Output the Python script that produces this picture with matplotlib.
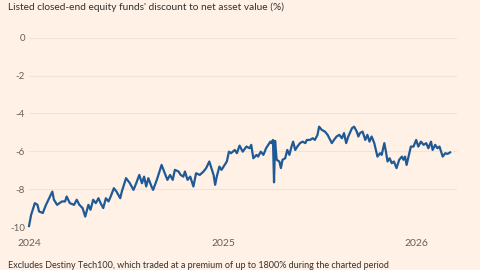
import matplotlib
matplotlib.use("Agg")
import matplotlib.pyplot as plt
import pandas as pd

title = "Listed closed-end equity funds' discount to net asset value (%)"
footnote = "Excludes Destiny Tech100, which traded at a premium of up to 1800% during the charted period"

dates = [
    "2024-01-01", "2024-01-05", "2024-01-12", "2024-01-17", "2024-01-20", "2024-01-27",
    "2024-02-02", "2024-02-08", "2024-02-14", "2024-02-17", "2024-02-23", "2024-03-03",
    "2024-03-09", "2024-03-12", "2024-03-18", "2024-03-26", "2024-03-31", "2024-04-05",
    "2024-04-11", "2024-04-16", "2024-04-22", "2024-04-26", "2024-05-01", "2024-05-06",
    "2024-05-11", "2024-05-15", "2024-05-20", "2024-05-25", "2024-05-30", "2024-06-03",
    "2024-06-09", "2024-06-14", "2024-06-21", "2024-06-24", "2024-07-02", "2024-07-09",
    "2024-07-16", "2024-07-21", "2024-07-27", "2024-08-01", "2024-08-05", "2024-08-09",
    "2024-08-13", "2024-08-19", "2024-08-22", "2024-08-29", "2024-09-07", "2024-09-13",
    "2024-09-18", "2024-09-23", "2024-09-28", "2024-10-02", "2024-10-09", "2024-10-13",
    "2024-10-18", "2024-10-21", "2024-10-26", "2024-10-31", "2024-11-06", "2024-11-11",
    "2024-11-18", "2024-11-25", "2024-11-30", "2024-12-06", "2024-12-11", "2024-12-14",
    "2024-12-17", "2024-12-20", "2024-12-25", "2024-12-29", "2025-01-04", "2025-01-08",
    "2025-01-12", "2025-01-16", "2025-01-23", "2025-01-27", "2025-02-01", "2025-02-07",
    "2025-02-14", "2025-02-20", "2025-02-23", "2025-02-27", "2025-03-05", "2025-03-08",
    "2025-03-13", "2025-03-18", "2025-03-23", "2025-03-27", "2025-03-31", "2025-04-02",
    "2025-04-05", "2025-04-07", "2025-04-09", "2025-04-12", "2025-04-17", "2025-04-20",
    "2025-04-23", "2025-04-28", "2025-05-02", "2025-05-06", "2025-05-10", "2025-05-13",
    "2025-05-17", "2025-05-21", "2025-05-26", "2025-05-31", "2025-06-05", "2025-06-08",
    "2025-06-14", "2025-06-19", "2025-06-23", "2025-06-28", "2025-07-01", "2025-07-06",
    "2025-07-12", "2025-07-17", "2025-07-22", "2025-07-25", "2025-07-29", "2025-08-03",
    "2025-08-08", "2025-08-13", "2025-08-17", "2025-08-21", "2025-08-25", "2025-09-01",
    "2025-09-05", "2025-09-10", "2025-09-13", "2025-09-16", "2025-09-21", "2025-09-26",
    "2025-09-30", "2025-10-04", "2025-10-08", "2025-10-13", "2025-10-16", "2025-10-19",
    "2025-10-24", "2025-10-27", "2025-11-01", "2025-11-04", "2025-11-07", "2025-11-11",
    "2025-11-15", "2025-11-19", "2025-11-24", "2025-11-29", "2025-12-04", "2025-12-07",
    "2025-12-10", "2025-12-13", "2025-12-18", "2025-12-21", "2025-12-26", "2025-12-31",
    "2026-01-04", "2026-01-09", "2026-01-14", "2026-01-19", "2026-01-23", "2026-01-28",
    "2026-01-31", "2026-02-05", "2026-02-09", "2026-02-13", "2026-02-16", "2026-02-19",
    "2026-02-24", "2026-02-28", "2026-03-05",
]
discount = [
    -9.95, -9.36, -8.74, -8.83, -9.18, -9.26,
    -8.83, -8.48, -8.13, -8.56, -8.83, -8.65,
    -8.65, -8.39, -8.74, -8.83, -8.56, -8.83,
    -9.00, -9.45, -8.83, -9.09, -8.56, -8.74,
    -8.48, -8.74, -9.00, -8.48, -8.65, -8.39,
    -7.95, -8.13, -8.48, -8.13, -7.42, -7.68,
    -8.04, -7.70, -7.25, -7.69, -7.34, -7.86,
    -7.42, -7.86, -8.04, -7.51, -6.72, -7.16,
    -7.51, -7.25, -7.51, -6.98, -7.07, -7.25,
    -7.34, -7.07, -7.51, -7.34, -7.86, -7.16,
    -7.25, -7.07, -6.89, -6.54, -6.98, -7.25,
    -7.77, -7.34, -6.81, -6.98, -6.72, -6.54,
    -6.02, -6.10, -5.93, -6.10, -5.70, -6.02,
    -5.75, -5.84, -5.66, -6.37, -6.19, -6.28,
    -6.02, -6.19, -5.84, -5.66, -5.49, -5.57,
    -5.40, -7.64, -5.45, -6.45, -6.54, -6.89,
    -6.45, -6.37, -5.93, -6.19, -5.75, -5.49,
    -5.93, -5.75, -5.57, -5.49, -5.57, -5.40,
    -5.40, -5.31, -5.40, -5.13, -4.70, -4.87,
    -4.96, -5.13, -5.40, -5.57, -5.40, -5.22,
    -5.13, -5.31, -5.04, -5.57, -5.22, -4.78,
    -4.70, -4.96, -5.22, -5.04, -4.96, -5.40,
    -5.13, -5.49, -5.22, -5.57, -5.93, -6.28,
    -6.10, -6.19, -5.57, -6.02, -6.54, -6.37,
    -6.63, -6.54, -6.89, -6.45, -6.28, -6.45,
    -6.28, -6.72, -6.10, -5.75, -5.75, -5.40,
    -5.75, -5.49, -5.66, -5.57, -5.84, -5.49,
    -5.93, -5.66, -5.84, -5.75, -6.02, -6.28,
    -6.10, -6.14, -6.06,
]
y_ticks = [0, -2, -4, -6, -8, -10]
x_ticks = ["2024-01-01", "2025-01-01", "2026-01-01"]
x_tick_labels = ["2024", "2025", "2026"]

BG = "#FFF1E5"
LINE = "#1F5A96"
GRID = "#F2E3D5"
TEXT = "#66605C"
DARK = "#33302E"

plt.rcParams["font.family"] = ["Lato", "DejaVu Sans"]

fig = plt.figure(figsize=(4.8, 2.7), dpi=100, facecolor=BG)
ax = fig.add_axes([29 / 480, 1 - 227 / 270, (457 - 29) / 480, (227 - 37.7) / 270])
ax.set_facecolor(BG)

x = pd.to_datetime(dates)
ax.plot(x, discount, color=LINE, lw=1.6, solid_joinstyle="round", clip_on=False, zorder=3)

ax.set_ylim(-10, 0)
ax.set_xlim(pd.Timestamp("2024-01-01"), pd.Timestamp("2026-03-18"))
ax.set_yticks(y_ticks)
ax.set_yticklabels([str(t) for t in y_ticks])
ax.set_xticks(pd.to_datetime(x_ticks))
ax.set_xticklabels(x_tick_labels)
ax.grid(axis="y", color=GRID, lw=0.8)
ax.set_axisbelow(True)
for s in ax.spines.values():
    s.set_visible(False)
ax.tick_params(axis="y", length=0, pad=3, labelsize=7, labelcolor=TEXT)
ax.tick_params(axis="x", length=0, pad=9, labelsize=7.5, labelcolor=TEXT)

fig.text(8 / 480, 1 - 7 / 270, title, ha="left", va="center", fontsize=7.3, color=DARK)
fig.text(8 / 480, 1 - 265.5 / 270, footnote, ha="left", va="center", fontsize=6.5, color=DARK)

fig.savefig("out.png", dpi=100, facecolor=BG)
